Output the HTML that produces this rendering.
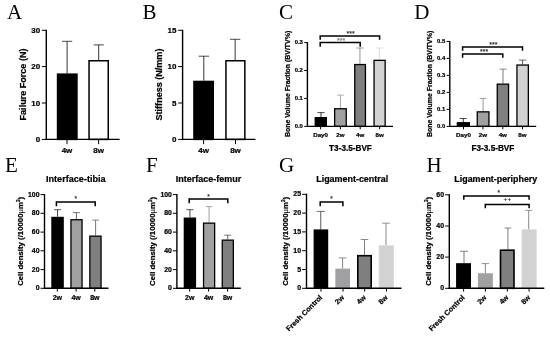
<!DOCTYPE html>
<html><head><meta charset="utf-8"><title>Figure</title>
<style>
html,body{margin:0;padding:0;background:#fff;}
body{width:550px;height:338px;overflow:hidden;}
svg{display:block;}
text.s{font-family:"Liberation Serif","Times New Roman",serif;font-weight:normal;stroke:none;}
</style></head><body>
<svg width="550" height="338" viewBox="0 0 550 338">
<rect x="0" y="0" width="550" height="338" fill="#fff"/>
<g font-family='"Liberation Sans", Arial, sans-serif' font-weight="bold" text-anchor="middle" fill="#000" stroke="#000" stroke-width="0.22">
<text class="s" x="7.00" y="19.00" font-size="21" text-anchor="start">A</text>
<line x1="67.10" y1="73.40" x2="67.10" y2="41.30" stroke="#111" stroke-width="0.85" stroke-linecap="butt"/>
<line x1="62.00" y1="41.30" x2="72.20" y2="41.30" stroke="#111" stroke-width="0.75" stroke-linecap="butt"/>
<rect x="57.55" y="74.15" width="19.40" height="65.25" fill="#000" stroke="#000" stroke-width="1.5"/>
<line x1="98.70" y1="60.00" x2="98.70" y2="44.90" stroke="#111" stroke-width="0.85" stroke-linecap="butt"/>
<line x1="93.60" y1="44.90" x2="103.80" y2="44.90" stroke="#111" stroke-width="0.75" stroke-linecap="butt"/>
<rect x="89.05" y="60.75" width="19.20" height="78.65" fill="#fff" stroke="#000" stroke-width="1.5"/>
<line x1="46.30" y1="29.80" x2="46.30" y2="140.10" stroke="#000" stroke-width="1.4" stroke-linecap="butt"/>
<line x1="45.60" y1="139.40" x2="119.60" y2="139.40" stroke="#000" stroke-width="1.4" stroke-linecap="butt"/>
<line x1="41.90" y1="30.30" x2="46.30" y2="30.30" stroke="#000" stroke-width="1.0" stroke-linecap="butt"/>
<text x="40.20" y="32.81" font-size="8.0" text-anchor="end">30</text>
<line x1="41.90" y1="66.60" x2="46.30" y2="66.60" stroke="#000" stroke-width="1.0" stroke-linecap="butt"/>
<text x="40.20" y="69.11" font-size="8.0" text-anchor="end">20</text>
<line x1="41.90" y1="103.00" x2="46.30" y2="103.00" stroke="#000" stroke-width="1.0" stroke-linecap="butt"/>
<text x="40.20" y="105.51" font-size="8.0" text-anchor="end">10</text>
<line x1="41.90" y1="139.40" x2="46.30" y2="139.40" stroke="#000" stroke-width="1.0" stroke-linecap="butt"/>
<text x="40.20" y="141.91" font-size="8.0" text-anchor="end">0</text>
<line x1="67.00" y1="139.40" x2="67.00" y2="144.10" stroke="#000" stroke-width="1.0" stroke-linecap="butt"/>
<text x="67.00" y="153.00" font-size="8.0">4w</text>
<line x1="98.60" y1="139.40" x2="98.60" y2="144.10" stroke="#000" stroke-width="1.0" stroke-linecap="butt"/>
<text x="98.60" y="153.00" font-size="8.0">8w</text>
<text x="25.70" y="84.50" font-size="9.05" transform="rotate(-90 25.70 84.50)">Failure Force (N)</text>
<text class="s" x="142.60" y="19.00" font-size="21" text-anchor="start">B</text>
<line x1="203.80" y1="80.70" x2="203.80" y2="56.20" stroke="#111" stroke-width="0.85" stroke-linecap="butt"/>
<line x1="198.60" y1="56.20" x2="209.00" y2="56.20" stroke="#111" stroke-width="0.75" stroke-linecap="butt"/>
<rect x="193.95" y="81.45" width="19.30" height="57.95" fill="#000" stroke="#000" stroke-width="1.5"/>
<line x1="235.15" y1="60.00" x2="235.15" y2="39.30" stroke="#111" stroke-width="0.85" stroke-linecap="butt"/>
<line x1="230.00" y1="39.30" x2="240.30" y2="39.30" stroke="#111" stroke-width="0.75" stroke-linecap="butt"/>
<rect x="225.95" y="60.75" width="18.90" height="78.65" fill="#fff" stroke="#000" stroke-width="1.5"/>
<line x1="182.60" y1="29.80" x2="182.60" y2="140.10" stroke="#000" stroke-width="1.4" stroke-linecap="butt"/>
<line x1="181.90" y1="139.40" x2="255.50" y2="139.40" stroke="#000" stroke-width="1.4" stroke-linecap="butt"/>
<line x1="178.20" y1="30.30" x2="182.60" y2="30.30" stroke="#000" stroke-width="1.0" stroke-linecap="butt"/>
<text x="176.50" y="32.81" font-size="8.0" text-anchor="end">15</text>
<line x1="178.20" y1="66.60" x2="182.60" y2="66.60" stroke="#000" stroke-width="1.0" stroke-linecap="butt"/>
<text x="176.50" y="69.11" font-size="8.0" text-anchor="end">10</text>
<line x1="178.20" y1="103.00" x2="182.60" y2="103.00" stroke="#000" stroke-width="1.0" stroke-linecap="butt"/>
<text x="176.50" y="105.51" font-size="8.0" text-anchor="end">5</text>
<line x1="178.20" y1="139.40" x2="182.60" y2="139.40" stroke="#000" stroke-width="1.0" stroke-linecap="butt"/>
<text x="176.50" y="141.91" font-size="8.0" text-anchor="end">0</text>
<line x1="203.60" y1="139.40" x2="203.60" y2="144.10" stroke="#000" stroke-width="1.0" stroke-linecap="butt"/>
<text x="203.60" y="153.00" font-size="8.0">4w</text>
<line x1="235.50" y1="139.40" x2="235.50" y2="144.10" stroke="#000" stroke-width="1.0" stroke-linecap="butt"/>
<text x="235.50" y="153.00" font-size="8.0">8w</text>
<text x="162.00" y="84.50" font-size="9.05" transform="rotate(-90 162.00 84.50)">Stiffness (N/mm)</text>
<text class="s" x="279.00" y="19.30" font-size="21" text-anchor="start">C</text>
<line x1="321.00" y1="117.00" x2="321.00" y2="112.60" stroke="#000" stroke-width="0.8" stroke-linecap="butt"/>
<line x1="317.40" y1="112.60" x2="324.60" y2="112.60" stroke="#000" stroke-width="0.7000000000000001" stroke-linecap="butt"/>
<rect x="315.25" y="117.65" width="11.10" height="8.75" fill="#000" stroke="#000" stroke-width="1.3"/>
<line x1="340.45" y1="108.10" x2="340.45" y2="95.10" stroke="#909090" stroke-width="0.8" stroke-linecap="butt"/>
<line x1="337.00" y1="95.10" x2="343.90" y2="95.10" stroke="#909090" stroke-width="0.7000000000000001" stroke-linecap="butt"/>
<rect x="334.65" y="108.75" width="11.60" height="17.65" fill="#a0a0a2" stroke="#000" stroke-width="1.3"/>
<line x1="359.95" y1="63.90" x2="359.95" y2="48.00" stroke="#777" stroke-width="0.8" stroke-linecap="butt"/>
<line x1="356.40" y1="48.00" x2="363.50" y2="48.00" stroke="#777" stroke-width="0.7000000000000001" stroke-linecap="butt"/>
<rect x="354.75" y="64.55" width="10.70" height="61.85" fill="#7f7f7f" stroke="#000" stroke-width="1.3"/>
<line x1="379.40" y1="59.70" x2="379.40" y2="48.00" stroke="#d4d4d4" stroke-width="0.8" stroke-linecap="butt"/>
<line x1="375.80" y1="48.00" x2="383.00" y2="48.00" stroke="#d4d4d4" stroke-width="0.7000000000000001" stroke-linecap="butt"/>
<rect x="374.05" y="60.35" width="11.10" height="66.05" fill="#d2d2d2" stroke="#000" stroke-width="1.3"/>
<line x1="307.40" y1="42.10" x2="307.40" y2="127.10" stroke="#000" stroke-width="1.4" stroke-linecap="butt"/>
<line x1="306.70" y1="126.40" x2="393.00" y2="126.40" stroke="#000" stroke-width="1.4" stroke-linecap="butt"/>
<line x1="304.20" y1="42.60" x2="307.40" y2="42.60" stroke="#000" stroke-width="1.0" stroke-linecap="butt"/>
<text x="302.90" y="44.36" font-size="5.9" text-anchor="end">0.3</text>
<line x1="304.20" y1="70.50" x2="307.40" y2="70.50" stroke="#000" stroke-width="1.0" stroke-linecap="butt"/>
<text x="302.90" y="72.26" font-size="5.9" text-anchor="end">0.2</text>
<line x1="304.20" y1="98.40" x2="307.40" y2="98.40" stroke="#000" stroke-width="1.0" stroke-linecap="butt"/>
<text x="302.90" y="100.16" font-size="5.9" text-anchor="end">0.1</text>
<line x1="304.20" y1="126.40" x2="307.40" y2="126.40" stroke="#000" stroke-width="1.0" stroke-linecap="butt"/>
<text x="302.90" y="128.16" font-size="5.9" text-anchor="end">0.0</text>
<line x1="320.60" y1="126.40" x2="320.60" y2="129.30" stroke="#000" stroke-width="1.0" stroke-linecap="butt"/>
<text x="320.60" y="136.80" font-size="6.2">Day0</text>
<line x1="340.40" y1="126.40" x2="340.40" y2="129.30" stroke="#000" stroke-width="1.0" stroke-linecap="butt"/>
<text x="340.40" y="136.80" font-size="6.2">2w</text>
<line x1="360.20" y1="126.40" x2="360.20" y2="129.30" stroke="#000" stroke-width="1.0" stroke-linecap="butt"/>
<text x="360.20" y="136.80" font-size="6.2">4w</text>
<line x1="379.60" y1="126.40" x2="379.60" y2="129.30" stroke="#000" stroke-width="1.0" stroke-linecap="butt"/>
<text x="379.60" y="136.80" font-size="6.2">8w</text>
<text x="290.20" y="83.90" font-size="6.95" transform="rotate(-90 290.20 83.90)">Bone Volume Fraction (BV/TV%)</text>
<text x="350.50" y="151.00" font-size="8.2">T3-3.5-BVF</text>
<polyline points="320.20,39.70 320.20,35.90 379.60,35.90 379.60,39.70" fill="none" stroke="#000" stroke-width="1.5" stroke-linejoin="miter"/>
<text x="350.70" y="36.10" font-size="7" fill="#222" stroke="#222" font-weight="normal" stroke-width="0.12">***</text>
<polyline points="320.20,46.70 320.20,42.50 360.20,42.50 360.20,46.70" fill="none" stroke="#000" stroke-width="1.5" stroke-linejoin="miter"/>
<text x="341.10" y="43.10" font-size="7" fill="#777" stroke="#777" font-weight="normal" stroke-width="0.12">***</text>
<text class="s" x="414.30" y="19.30" font-size="21" text-anchor="start">D</text>
<line x1="463.25" y1="122.10" x2="463.25" y2="118.50" stroke="#000" stroke-width="0.8" stroke-linecap="butt"/>
<line x1="459.70" y1="118.50" x2="466.80" y2="118.50" stroke="#000" stroke-width="0.7000000000000001" stroke-linecap="butt"/>
<rect x="457.35" y="122.75" width="12.00" height="3.65" fill="#000" stroke="#000" stroke-width="1.3"/>
<line x1="483.10" y1="111.20" x2="483.10" y2="98.40" stroke="#7c7c7c" stroke-width="0.8" stroke-linecap="butt"/>
<line x1="479.70" y1="98.40" x2="486.50" y2="98.40" stroke="#7c7c7c" stroke-width="0.7000000000000001" stroke-linecap="butt"/>
<rect x="477.25" y="111.85" width="11.70" height="14.55" fill="#a0a0a2" stroke="#000" stroke-width="1.3"/>
<line x1="503.00" y1="83.50" x2="503.00" y2="69.10" stroke="#5c5c5c" stroke-width="0.8" stroke-linecap="butt"/>
<line x1="499.40" y1="69.10" x2="506.60" y2="69.10" stroke="#5c5c5c" stroke-width="0.7000000000000001" stroke-linecap="butt"/>
<rect x="497.25" y="84.15" width="11.30" height="42.25" fill="#7f7f7f" stroke="#000" stroke-width="1.3"/>
<line x1="522.55" y1="64.40" x2="522.55" y2="60.10" stroke="#333" stroke-width="0.8" stroke-linecap="butt"/>
<line x1="518.90" y1="60.10" x2="526.20" y2="60.10" stroke="#333" stroke-width="0.7000000000000001" stroke-linecap="butt"/>
<rect x="516.95" y="65.05" width="11.40" height="61.35" fill="#d2d2d2" stroke="#000" stroke-width="1.3"/>
<line x1="449.80" y1="40.90" x2="449.80" y2="127.10" stroke="#000" stroke-width="1.4" stroke-linecap="butt"/>
<line x1="449.10" y1="126.40" x2="536.20" y2="126.40" stroke="#000" stroke-width="1.4" stroke-linecap="butt"/>
<line x1="446.60" y1="41.40" x2="449.80" y2="41.40" stroke="#000" stroke-width="1.0" stroke-linecap="butt"/>
<text x="445.30" y="43.16" font-size="5.9" text-anchor="end">0.5</text>
<line x1="446.60" y1="58.40" x2="449.80" y2="58.40" stroke="#000" stroke-width="1.0" stroke-linecap="butt"/>
<text x="445.30" y="60.16" font-size="5.9" text-anchor="end">0.4</text>
<line x1="446.60" y1="75.40" x2="449.80" y2="75.40" stroke="#000" stroke-width="1.0" stroke-linecap="butt"/>
<text x="445.30" y="77.16" font-size="5.9" text-anchor="end">0.3</text>
<line x1="446.60" y1="92.40" x2="449.80" y2="92.40" stroke="#000" stroke-width="1.0" stroke-linecap="butt"/>
<text x="445.30" y="94.16" font-size="5.9" text-anchor="end">0.2</text>
<line x1="446.60" y1="109.40" x2="449.80" y2="109.40" stroke="#000" stroke-width="1.0" stroke-linecap="butt"/>
<text x="445.30" y="111.16" font-size="5.9" text-anchor="end">0.1</text>
<line x1="446.60" y1="126.40" x2="449.80" y2="126.40" stroke="#000" stroke-width="1.0" stroke-linecap="butt"/>
<text x="445.30" y="128.16" font-size="5.9" text-anchor="end">0.0</text>
<line x1="463.50" y1="126.40" x2="463.50" y2="129.30" stroke="#000" stroke-width="1.0" stroke-linecap="butt"/>
<text x="463.50" y="136.80" font-size="6.2">Day0</text>
<line x1="482.90" y1="126.40" x2="482.90" y2="129.30" stroke="#000" stroke-width="1.0" stroke-linecap="butt"/>
<text x="482.90" y="136.80" font-size="6.2">2w</text>
<line x1="502.80" y1="126.40" x2="502.80" y2="129.30" stroke="#000" stroke-width="1.0" stroke-linecap="butt"/>
<text x="502.80" y="136.80" font-size="6.2">4w</text>
<line x1="522.50" y1="126.40" x2="522.50" y2="129.30" stroke="#000" stroke-width="1.0" stroke-linecap="butt"/>
<text x="522.50" y="136.80" font-size="6.2">8w</text>
<text x="432.10" y="83.90" font-size="6.95" transform="rotate(-90 432.10 83.90)">Bone Volume Fraction (BV/TV%)</text>
<text x="492.90" y="151.00" font-size="8.2">F3-3.5-BVF</text>
<polyline points="462.60,50.70 462.60,46.90 522.50,46.90 522.50,50.70" fill="none" stroke="#000" stroke-width="1.5" stroke-linejoin="miter"/>
<text x="493.40" y="47.00" font-size="7" fill="#222" stroke="#222" font-weight="normal" stroke-width="0.12">***</text>
<polyline points="462.60,57.80 462.60,54.00 502.80,54.00 502.80,57.80" fill="none" stroke="#000" stroke-width="1.5" stroke-linejoin="miter"/>
<text x="484.10" y="54.30" font-size="7" fill="#222" stroke="#222" font-weight="normal" stroke-width="0.12">***</text>
<text class="s" x="5.10" y="172.00" font-size="21" text-anchor="start">E</text>
<line x1="57.55" y1="216.80" x2="57.55" y2="209.70" stroke="#111" stroke-width="0.8" stroke-linecap="butt"/>
<line x1="54.00" y1="209.70" x2="61.10" y2="209.70" stroke="#111" stroke-width="0.7000000000000001" stroke-linecap="butt"/>
<rect x="51.95" y="217.45" width="11.20" height="70.85" fill="#000" stroke="#000" stroke-width="1.3"/>
<line x1="76.45" y1="219.10" x2="76.45" y2="212.60" stroke="#444" stroke-width="0.8" stroke-linecap="butt"/>
<line x1="72.90" y1="212.60" x2="80.00" y2="212.60" stroke="#444" stroke-width="0.7000000000000001" stroke-linecap="butt"/>
<rect x="70.95" y="219.75" width="11.10" height="68.55" fill="#a0a0a2" stroke="#000" stroke-width="1.3"/>
<line x1="95.60" y1="235.50" x2="95.60" y2="220.10" stroke="#555" stroke-width="0.8" stroke-linecap="butt"/>
<line x1="92.20" y1="220.10" x2="99.00" y2="220.10" stroke="#555" stroke-width="0.7000000000000001" stroke-linecap="butt"/>
<rect x="89.85" y="236.15" width="11.20" height="52.15" fill="#7f7f7f" stroke="#000" stroke-width="1.3"/>
<line x1="44.50" y1="194.10" x2="44.50" y2="289.00" stroke="#000" stroke-width="1.4" stroke-linecap="butt"/>
<line x1="43.80" y1="288.30" x2="108.50" y2="288.30" stroke="#000" stroke-width="1.4" stroke-linecap="butt"/>
<line x1="40.50" y1="194.60" x2="44.50" y2="194.60" stroke="#000" stroke-width="1.0" stroke-linecap="butt"/>
<text x="39.50" y="196.72" font-size="6.9" text-anchor="end">100</text>
<line x1="40.50" y1="213.30" x2="44.50" y2="213.30" stroke="#000" stroke-width="1.0" stroke-linecap="butt"/>
<text x="39.50" y="215.42" font-size="6.9" text-anchor="end">80</text>
<line x1="40.50" y1="232.10" x2="44.50" y2="232.10" stroke="#000" stroke-width="1.0" stroke-linecap="butt"/>
<text x="39.50" y="234.22" font-size="6.9" text-anchor="end">60</text>
<line x1="40.50" y1="250.80" x2="44.50" y2="250.80" stroke="#000" stroke-width="1.0" stroke-linecap="butt"/>
<text x="39.50" y="252.92" font-size="6.9" text-anchor="end">40</text>
<line x1="40.50" y1="269.60" x2="44.50" y2="269.60" stroke="#000" stroke-width="1.0" stroke-linecap="butt"/>
<text x="39.50" y="271.72" font-size="6.9" text-anchor="end">20</text>
<line x1="40.50" y1="288.30" x2="44.50" y2="288.30" stroke="#000" stroke-width="1.0" stroke-linecap="butt"/>
<text x="39.50" y="290.42" font-size="6.9" text-anchor="end">0</text>
<line x1="57.30" y1="288.30" x2="57.30" y2="291.60" stroke="#000" stroke-width="1.0" stroke-linecap="butt"/>
<text x="57.30" y="300.20" font-size="7.0">2w</text>
<line x1="76.10" y1="288.30" x2="76.10" y2="291.60" stroke="#000" stroke-width="1.0" stroke-linecap="butt"/>
<text x="76.10" y="300.20" font-size="7.0">4w</text>
<line x1="94.80" y1="288.30" x2="94.80" y2="291.60" stroke="#000" stroke-width="1.0" stroke-linecap="butt"/>
<text x="94.80" y="300.20" font-size="7.0">8w</text>
<text x="23.00" y="241.40" font-size="7.8" transform="rotate(-90 23.00 241.40)">Cell density (/10000<tspan font-weight="normal" stroke="none">µ</tspan>m<tspan font-size="4.5" dy="-3.4">2</tspan><tspan dy="3.4">)</tspan></text>
<text x="75.80" y="181.70" font-size="9.1">Interface-tibia</text>
<polyline points="56.40,206.30 56.40,202.10 95.20,202.10 95.20,206.30" fill="none" stroke="#000" stroke-width="1.5" stroke-linejoin="miter"/>
<text x="75.80" y="201.20" font-size="6.5" fill="#222" stroke="#222" font-weight="normal" stroke-width="0.12">*</text>
<text class="s" x="146.10" y="172.00" font-size="21" text-anchor="start">F</text>
<line x1="189.95" y1="217.50" x2="189.95" y2="209.70" stroke="#111" stroke-width="0.8" stroke-linecap="butt"/>
<line x1="186.40" y1="209.70" x2="193.50" y2="209.70" stroke="#111" stroke-width="0.7000000000000001" stroke-linecap="butt"/>
<rect x="184.35" y="218.15" width="11.10" height="70.15" fill="#000" stroke="#000" stroke-width="1.3"/>
<line x1="209.10" y1="222.50" x2="209.10" y2="206.60" stroke="#858585" stroke-width="0.8" stroke-linecap="butt"/>
<line x1="205.80" y1="206.60" x2="212.40" y2="206.60" stroke="#858585" stroke-width="0.7000000000000001" stroke-linecap="butt"/>
<rect x="203.55" y="223.15" width="11.10" height="65.15" fill="#a0a0a2" stroke="#000" stroke-width="1.3"/>
<line x1="227.75" y1="239.50" x2="227.75" y2="235.20" stroke="#444" stroke-width="0.8" stroke-linecap="butt"/>
<line x1="224.20" y1="235.20" x2="231.30" y2="235.20" stroke="#444" stroke-width="0.7000000000000001" stroke-linecap="butt"/>
<rect x="222.25" y="240.15" width="11.10" height="48.15" fill="#7f7f7f" stroke="#000" stroke-width="1.3"/>
<line x1="176.90" y1="194.10" x2="176.90" y2="289.00" stroke="#000" stroke-width="1.4" stroke-linecap="butt"/>
<line x1="176.20" y1="288.30" x2="240.80" y2="288.30" stroke="#000" stroke-width="1.4" stroke-linecap="butt"/>
<line x1="172.90" y1="194.60" x2="176.90" y2="194.60" stroke="#000" stroke-width="1.0" stroke-linecap="butt"/>
<text x="171.90" y="196.72" font-size="6.9" text-anchor="end">100</text>
<line x1="172.90" y1="213.30" x2="176.90" y2="213.30" stroke="#000" stroke-width="1.0" stroke-linecap="butt"/>
<text x="171.90" y="215.42" font-size="6.9" text-anchor="end">80</text>
<line x1="172.90" y1="232.10" x2="176.90" y2="232.10" stroke="#000" stroke-width="1.0" stroke-linecap="butt"/>
<text x="171.90" y="234.22" font-size="6.9" text-anchor="end">60</text>
<line x1="172.90" y1="250.80" x2="176.90" y2="250.80" stroke="#000" stroke-width="1.0" stroke-linecap="butt"/>
<text x="171.90" y="252.92" font-size="6.9" text-anchor="end">40</text>
<line x1="172.90" y1="269.60" x2="176.90" y2="269.60" stroke="#000" stroke-width="1.0" stroke-linecap="butt"/>
<text x="171.90" y="271.72" font-size="6.9" text-anchor="end">20</text>
<line x1="172.90" y1="288.30" x2="176.90" y2="288.30" stroke="#000" stroke-width="1.0" stroke-linecap="butt"/>
<text x="171.90" y="290.42" font-size="6.9" text-anchor="end">0</text>
<line x1="189.70" y1="288.30" x2="189.70" y2="291.60" stroke="#000" stroke-width="1.0" stroke-linecap="butt"/>
<text x="189.70" y="300.20" font-size="7.0">2w</text>
<line x1="208.60" y1="288.30" x2="208.60" y2="291.60" stroke="#000" stroke-width="1.0" stroke-linecap="butt"/>
<text x="208.60" y="300.20" font-size="7.0">4w</text>
<line x1="227.60" y1="288.30" x2="227.60" y2="291.60" stroke="#000" stroke-width="1.0" stroke-linecap="butt"/>
<text x="227.60" y="300.20" font-size="7.0">8w</text>
<text x="155.10" y="241.40" font-size="7.8" transform="rotate(-90 155.10 241.40)">Cell density (/10000<tspan font-weight="normal" stroke="none">µ</tspan>m<tspan font-size="4.5" dy="-3.4">2</tspan><tspan dy="3.4">)</tspan></text>
<text x="208.50" y="181.70" font-size="9.0">Interface-femur</text>
<polyline points="189.20,203.30 189.20,199.10 227.80,199.10 227.80,203.30" fill="none" stroke="#000" stroke-width="1.5" stroke-linejoin="miter"/>
<text x="208.60" y="198.60" font-size="6.5" fill="#222" stroke="#222" font-weight="normal" stroke-width="0.12">*</text>
<text class="s" x="279.00" y="172.00" font-size="21" text-anchor="start">G</text>
<line x1="320.75" y1="229.40" x2="320.75" y2="211.40" stroke="#333" stroke-width="0.8" stroke-linecap="butt"/>
<line x1="316.60" y1="211.40" x2="324.90" y2="211.40" stroke="#333" stroke-width="0.7000000000000001" stroke-linecap="butt"/>
<rect x="314.25" y="230.05" width="13.30" height="58.25" fill="#000" stroke="#000" stroke-width="1.3"/>
<line x1="342.60" y1="268.60" x2="342.60" y2="257.90" stroke="#666" stroke-width="0.8" stroke-linecap="butt"/>
<line x1="338.70" y1="257.90" x2="346.50" y2="257.90" stroke="#666" stroke-width="0.7000000000000001" stroke-linecap="butt"/>
<rect x="335.90" y="269.10" width="13.60" height="19.20" fill="#a0a0a2" stroke="#a0a0a2" stroke-width="1.0"/>
<line x1="364.50" y1="254.90" x2="364.50" y2="239.50" stroke="#5c5c5c" stroke-width="0.8" stroke-linecap="butt"/>
<line x1="360.70" y1="239.50" x2="368.30" y2="239.50" stroke="#5c5c5c" stroke-width="0.7000000000000001" stroke-linecap="butt"/>
<rect x="357.80" y="255.70" width="13.40" height="32.60" fill="#7f7f7f" stroke="#000" stroke-width="1.6"/>
<line x1="386.00" y1="245.40" x2="386.00" y2="223.20" stroke="#6c6c6c" stroke-width="0.8" stroke-linecap="butt"/>
<line x1="382.00" y1="223.20" x2="390.00" y2="223.20" stroke="#6c6c6c" stroke-width="0.7000000000000001" stroke-linecap="butt"/>
<rect x="379.30" y="245.90" width="13.90" height="42.40" fill="#d2d2d2" stroke="#d2d2d2" stroke-width="1.0"/>
<line x1="306.50" y1="193.80" x2="306.50" y2="289.00" stroke="#000" stroke-width="1.4" stroke-linecap="butt"/>
<line x1="305.80" y1="288.30" x2="401.50" y2="288.30" stroke="#000" stroke-width="1.4" stroke-linecap="butt"/>
<line x1="302.10" y1="194.30" x2="306.50" y2="194.30" stroke="#000" stroke-width="1.0" stroke-linecap="butt"/>
<text x="301.10" y="196.46" font-size="7.0" text-anchor="end">25</text>
<line x1="302.10" y1="213.10" x2="306.50" y2="213.10" stroke="#000" stroke-width="1.0" stroke-linecap="butt"/>
<text x="301.10" y="215.26" font-size="7.0" text-anchor="end">20</text>
<line x1="302.10" y1="231.90" x2="306.50" y2="231.90" stroke="#000" stroke-width="1.0" stroke-linecap="butt"/>
<text x="301.10" y="234.06" font-size="7.0" text-anchor="end">15</text>
<line x1="302.10" y1="250.70" x2="306.50" y2="250.70" stroke="#000" stroke-width="1.0" stroke-linecap="butt"/>
<text x="301.10" y="252.86" font-size="7.0" text-anchor="end">10</text>
<line x1="302.10" y1="269.50" x2="306.50" y2="269.50" stroke="#000" stroke-width="1.0" stroke-linecap="butt"/>
<text x="301.10" y="271.66" font-size="7.0" text-anchor="end">5</text>
<line x1="302.10" y1="288.30" x2="306.50" y2="288.30" stroke="#000" stroke-width="1.0" stroke-linecap="butt"/>
<text x="301.10" y="290.46" font-size="7.0" text-anchor="end">0</text>
<line x1="321.00" y1="288.30" x2="321.00" y2="291.60" stroke="#000" stroke-width="1.0" stroke-linecap="butt"/>
<text x="322.70" y="298.00" font-size="7.25" text-anchor="end" transform="rotate(-45 322.70 298.00)">Fresh Control</text>
<line x1="343.00" y1="288.30" x2="343.00" y2="291.60" stroke="#000" stroke-width="1.0" stroke-linecap="butt"/>
<text x="344.70" y="298.00" font-size="7.25" text-anchor="end" transform="rotate(-45 344.70 298.00)">2w</text>
<line x1="364.70" y1="288.30" x2="364.70" y2="291.60" stroke="#000" stroke-width="1.0" stroke-linecap="butt"/>
<text x="366.40" y="298.00" font-size="7.25" text-anchor="end" transform="rotate(-45 366.40 298.00)">4w</text>
<line x1="386.50" y1="288.30" x2="386.50" y2="291.60" stroke="#000" stroke-width="1.0" stroke-linecap="butt"/>
<text x="388.20" y="298.00" font-size="7.25" text-anchor="end" transform="rotate(-45 388.20 298.00)">8w</text>
<text x="288.00" y="241.40" font-size="7.8" transform="rotate(-90 288.00 241.40)">Cell density (/10000<tspan font-weight="normal" stroke="none">µ</tspan>m<tspan font-size="4.5" dy="-3.4">2</tspan><tspan dy="3.4">)</tspan></text>
<text x="352.20" y="181.80" font-size="8.95">Ligament-central</text>
<polyline points="320.20,206.30 320.20,202.10 342.90,202.10 342.90,206.30" fill="none" stroke="#000" stroke-width="1.5" stroke-linejoin="miter"/>
<text x="331.60" y="200.60" font-size="6.5" fill="#222" stroke="#222" font-weight="normal" stroke-width="0.12">*</text>
<text class="s" x="426.50" y="172.00" font-size="21" text-anchor="start">H</text>
<line x1="464.00" y1="263.20" x2="464.00" y2="251.30" stroke="#555" stroke-width="0.8" stroke-linecap="butt"/>
<line x1="460.00" y1="251.30" x2="468.00" y2="251.30" stroke="#555" stroke-width="0.7000000000000001" stroke-linecap="butt"/>
<rect x="456.75" y="263.85" width="13.60" height="24.45" fill="#000" stroke="#000" stroke-width="1.3"/>
<line x1="485.35" y1="273.30" x2="485.35" y2="263.60" stroke="#666" stroke-width="0.8" stroke-linecap="butt"/>
<line x1="481.60" y1="263.60" x2="489.10" y2="263.60" stroke="#666" stroke-width="0.7000000000000001" stroke-linecap="butt"/>
<rect x="478.40" y="273.80" width="13.90" height="14.50" fill="#a0a0a2" stroke="#a0a0a2" stroke-width="1.0"/>
<line x1="507.90" y1="249.40" x2="507.90" y2="228.00" stroke="#5c5c5c" stroke-width="0.8" stroke-linecap="butt"/>
<line x1="504.50" y1="228.00" x2="511.30" y2="228.00" stroke="#5c5c5c" stroke-width="0.7000000000000001" stroke-linecap="butt"/>
<rect x="500.50" y="250.20" width="13.50" height="38.10" fill="#7f7f7f" stroke="#000" stroke-width="1.6"/>
<line x1="528.70" y1="229.40" x2="528.70" y2="210.40" stroke="#6c6c6c" stroke-width="0.8" stroke-linecap="butt"/>
<line x1="525.20" y1="210.40" x2="532.20" y2="210.40" stroke="#6c6c6c" stroke-width="0.7000000000000001" stroke-linecap="butt"/>
<rect x="522.20" y="229.90" width="13.90" height="58.40" fill="#d2d2d2" stroke="#d2d2d2" stroke-width="1.0"/>
<line x1="449.30" y1="194.30" x2="449.30" y2="289.00" stroke="#000" stroke-width="1.4" stroke-linecap="butt"/>
<line x1="448.60" y1="288.30" x2="544.30" y2="288.30" stroke="#000" stroke-width="1.4" stroke-linecap="butt"/>
<line x1="445.10" y1="194.80" x2="449.30" y2="194.80" stroke="#000" stroke-width="1.0" stroke-linecap="butt"/>
<text x="444.10" y="196.96" font-size="7.0" text-anchor="end">60</text>
<line x1="445.10" y1="226.00" x2="449.30" y2="226.00" stroke="#000" stroke-width="1.0" stroke-linecap="butt"/>
<text x="444.10" y="228.16" font-size="7.0" text-anchor="end">40</text>
<line x1="445.10" y1="257.10" x2="449.30" y2="257.10" stroke="#000" stroke-width="1.0" stroke-linecap="butt"/>
<text x="444.10" y="259.26" font-size="7.0" text-anchor="end">20</text>
<line x1="445.10" y1="288.30" x2="449.30" y2="288.30" stroke="#000" stroke-width="1.0" stroke-linecap="butt"/>
<text x="444.10" y="290.46" font-size="7.0" text-anchor="end">0</text>
<line x1="463.60" y1="288.30" x2="463.60" y2="291.60" stroke="#000" stroke-width="1.0" stroke-linecap="butt"/>
<text x="465.30" y="298.00" font-size="7.25" text-anchor="end" transform="rotate(-45 465.30 298.00)">Fresh Control</text>
<line x1="485.40" y1="288.30" x2="485.40" y2="291.60" stroke="#000" stroke-width="1.0" stroke-linecap="butt"/>
<text x="487.10" y="298.00" font-size="7.25" text-anchor="end" transform="rotate(-45 487.10 298.00)">2w</text>
<line x1="507.30" y1="288.30" x2="507.30" y2="291.60" stroke="#000" stroke-width="1.0" stroke-linecap="butt"/>
<text x="509.00" y="298.00" font-size="7.25" text-anchor="end" transform="rotate(-45 509.00 298.00)">4w</text>
<line x1="529.10" y1="288.30" x2="529.10" y2="291.60" stroke="#000" stroke-width="1.0" stroke-linecap="butt"/>
<text x="530.80" y="298.00" font-size="7.25" text-anchor="end" transform="rotate(-45 530.80 298.00)">8w</text>
<text x="431.00" y="241.40" font-size="7.8" transform="rotate(-90 431.00 241.40)">Cell density (/10000<tspan font-weight="normal" stroke="none">µ</tspan>m<tspan font-size="4.5" dy="-3.4">2</tspan><tspan dy="3.4">)</tspan></text>
<text x="495.80" y="181.90" font-size="8.9">Ligament-periphery</text>
<polyline points="463.80,199.80 463.80,196.00 529.10,196.00 529.10,199.80" fill="none" stroke="#000" stroke-width="1.5" stroke-linejoin="miter"/>
<text x="498.80" y="194.60" font-size="6.5" fill="#222" stroke="#222" font-weight="normal" stroke-width="0.12">*</text>
<polyline points="485.30,208.30 485.30,204.50 529.10,204.50 529.10,208.30" fill="none" stroke="#000" stroke-width="1.5" stroke-linejoin="miter"/>
<text x="507.60" y="200.50" font-size="6.2" fill="#111" stroke="#111" font-weight="normal" stroke-width="0.12" letter-spacing="0.6">++</text>
</g>
</svg>
</body></html>
